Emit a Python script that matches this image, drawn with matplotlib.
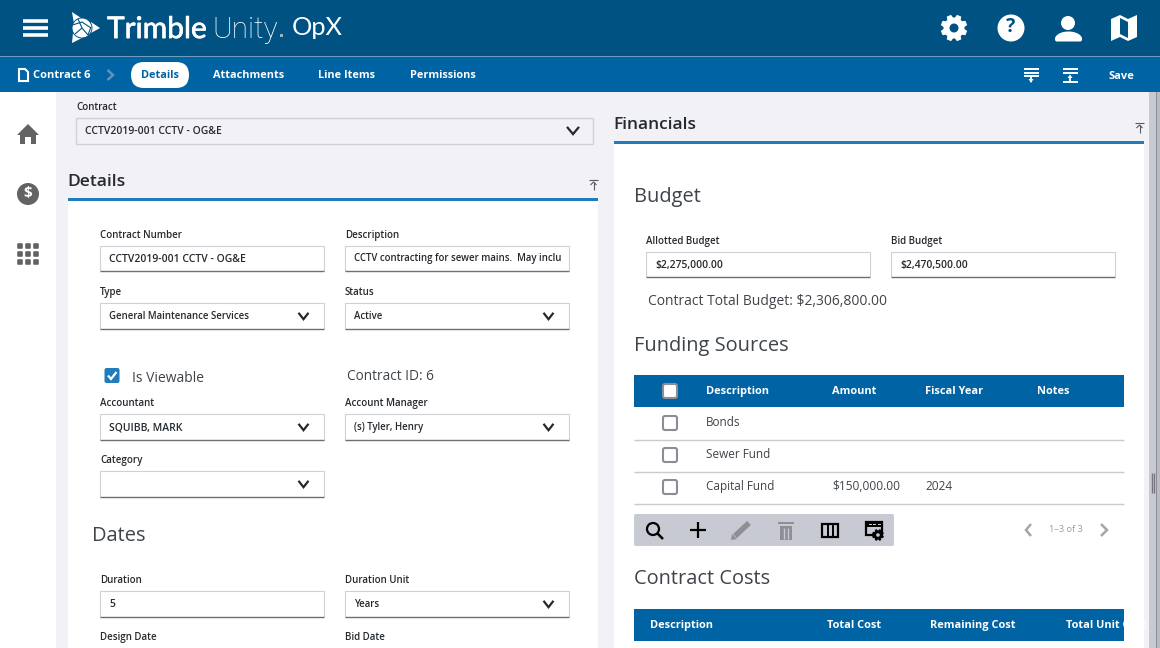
import numpy as np
import matplotlib
matplotlib.use("Agg")
import matplotlib.pyplot as plt
import matplotlib.patheffects as pe
from matplotlib.patches import Rectangle, FancyBboxPatch, Circle, Polygon

plt.rcParams['font.family'] = ['Open Sans', 'DejaVu Sans']

# --- Screen text ---
nav_tabs = ["Details", "Attachments", "Line Items", "Permissions"]
nav_x = [160, 249, 347, 443]

left_labels = ["Contract Number", "Description", "Type", "Status", "Accountant", "Account Manager",
               "Category", "Duration", "Duration Unit"]
left_values = ["CCTV2019-001 CCTV - OG&E", "CCTV contracting for sewer mains.  May inclu",
               "General Maintenance Services", "Active", "SQUIBB, MARK", "(s) Tyler, Henry",
               "", "5", "Years"]
left_is_select = [False, False, True, True, True, True, True, False, True]
left_col_x = [100, 345, 100, 345, 100, 345, 100, 100, 345]
left_top_y = [246, 246, 303, 303, 414, 414, 471, 591, 591]

funding_head = ["Description", "Amount", "Fiscal Year", "Notes"]
funding_head_x = [706, 832, 925, 1037]
funding_names = ["Bonds", "Sewer Fund", "Capital Fund"]
funding_amount = ["", "", "$150,000.00"]
funding_year = ["", "", "2024"]
funding_y = [422, 454, 486]

cost_head = ["Description", "Total Cost", "Remaining Cost", "Total Unit Cost"]
cost_head_x = [650, 827, 930, 1066]

# --- Colours ---
top_blue = "#005283"
nav_blue = "#0063a3"
page_bg = "#f1f1f6"
line_blue = "#217cbb"
ink = "#252a2e"
soft_ink = "#3f444b"
border = "#d0d0d7"
under = "#6e6e76"
tool_bg = "#c8cad3"
icon_gray = "#636366"

fig = plt.figure(figsize=(11.6, 6.48), dpi=100)
ax = fig.add_axes([0, 0, 1, 1])
ax.set_xlim(0, 1160)
ax.set_ylim(648, 0)
ax.axis("off")


def rect(x, y, w, h, color, z=1):
    ax.add_patch(Rectangle((x, y), w, h, facecolor=color, edgecolor="none", zorder=z))


def rounded(x, y, w, h, r, fc, ec="none", lw=0, z=2):
    ax.add_patch(FancyBboxPatch((x + r, y + r), w - 2*r, h - 2*r, boxstyle=f"round,pad={r}",
                                facecolor=fc, edgecolor=ec, linewidth=lw, zorder=z))


def txt(x, y, s, size=9, color=ink, weight="normal", ha="left", family=None, z=5):
    # y is the middle of the text line, so mixed strings share a baseline
    kw = {"family": family} if family else {}
    return ax.text(x, y + size/0.72*0.36, s, fontsize=size, color=color, fontweight=weight, ha=ha,
                   va="baseline", zorder=z, **kw)


def line(xs, ys, color="black", lw=1.0, z=4, cap="butt"):
    ax.plot(xs, ys, color=color, linewidth=lw, zorder=z, solid_capstyle=cap,
            solid_joinstyle="miter")


def chevron(cx, cy, w=5.0, h=3.2, color="#26282a", lw=1.6):
    line([cx - w, cx, cx + w], [cy - h, cy + h, cy - h], color, lw, z=6)


def value_size(value):
    # capitals and figures run wider in the original font
    return 7.5 if value.upper() == value else 6.95


def field(x, y, w, h, value="", select=False, fill="white", bottom=under):
    rect(x, y, w, h, fill, 2)
    line([x, x, x + w, x + w], [y + h, y, y, y + h], border, 0.8)
    line([x, x + w], [y + h, y + h], bottom, 1.0)
    if value:
        txt(x + 9, y + h/2 - 0.5, value, value_size(value), ink, "semibold")
    if select:
        chevron(x + w - 20.5, y + h/2)


def checkbox(cx, cy, fill="white", ec="#8c8d96"):
    rounded(cx - 7, cy - 7, 14, 14, 2, fill, ec, 1.5, z=4)


def gear(cx, cy, r_out, r_in, r_hole, color, hole):
    ang = np.linspace(0, 2*np.pi, 8, endpoint=False) + np.pi/8
    pts = []
    for a in ang:
        for d, rr in [(-0.30, r_in), (-0.17, r_out), (0.17, r_out), (0.30, r_in)]:
            pts.append((cx + rr*np.cos(a + d), cy + rr*np.sin(a + d)))
    ax.add_patch(Polygon(pts, closed=True, facecolor=color, edgecolor="none", zorder=5))
    ax.add_patch(Circle((cx, cy), r_hole, facecolor=hole, edgecolor="none", zorder=6))


# --- Backgrounds ---
rect(0, 0, 1160, 56, top_blue)
rect(0, 56, 1160, 1, "#6e9dbd")
rect(0, 57, 1160, 35, nav_blue)
rect(0, 92, 56, 556, "white")
rect(56, 92, 1093, 556, page_bg)
rect(1149, 92, 7, 556, tool_bg)
rect(1156, 92, 1, 556, "#8c8d96")
rect(1157, 92, 3, 556, "#bcbcc0")

# grip on the splitter
line([1151.5, 1151.5], [473, 493], "#75767f", 1.0)
line([1153.7, 1153.7], [473, 493], "#75767f", 1.0)

# --- Top bar ---
for y in [21, 28, 35]:
    line([23, 48], [y, y], "white", 2.6)

# logo mark
ax.add_patch(Polygon([(72, 12), (84, 20), (74, 24)], closed=True, facecolor="white", zorder=5))
ax.add_patch(Polygon([(91, 22), (100, 28), (91, 33)], closed=True, facecolor="white", zorder=5))
ax.add_patch(Polygon([(72, 43), (73, 33), (84, 37)], closed=True, facecolor="white", zorder=5))
ax.add_patch(Circle((82, 28), 10, facecolor="white", edgecolor=top_blue, linewidth=0.7, zorder=6))
line([72.5, 82, 91], [25, 22, 28], top_blue, 0.8, z=7)
line([78, 82, 75], [19, 28, 34], top_blue, 0.8, z=7)
line([82, 88, 91], [28, 35, 27], top_blue, 0.8, z=7)

t = txt(107, 27.3, "Trimble", 21.5, "white", "normal", family="Lato")
t.set_path_effects([pe.withStroke(linewidth=0.5, foreground="white")])
txt(212.5, 27.3, "Unity", 21.3, "white", "light", family="Roboto")
rect(280, 34, 3, 3, "#8fb4cc", 5)
txt(292, 25.9, "OpX", 18.3, "white", "normal", family="Lato")

# gear, help, user, map
gear(954, 28, 13.5, 10.5, 4.5, "white", top_blue)
ax.add_patch(Circle((1011, 28), 13.5, facecolor="white", edgecolor="none", zorder=5))
txt(1011, 24.5, "?", 14, top_blue, "bold", ha="center", z=6)
ax.add_patch(Circle((1068, 23), 7, facecolor="white", edgecolor="none", zorder=5))
a = np.linspace(np.pi, 2*np.pi, 30)
ax.add_patch(Polygon(np.column_stack([1068.5 + 13.5*np.cos(a), 39 + 7.5*np.sin(a)]), closed=True,
                     facecolor="white", edgecolor="none", zorder=5))
rounded(1055, 37, 27, 4.5, 2, "white", z=5)
ax.add_patch(Polygon([(1111, 19), (1120, 15), (1128, 19), (1137, 15), (1137, 37), (1128, 41), (1120, 37),
                      (1111, 41)], closed=True, facecolor="white", edgecolor="none", zorder=5))
ax.add_patch(Polygon([(1120, 18), (1128, 22), (1128, 38), (1120, 34)], closed=True, facecolor=top_blue,
                     edgecolor="none", zorder=6))

# --- Nav bar ---
ax.add_patch(Polygon([(19, 69), (25, 69), (28, 72), (28, 81), (19, 81)], closed=True, facecolor="none",
                     edgecolor="white", linewidth=1.5, zorder=5))
txt(33, 74, "Contract 6", 8.0, "white", "bold")
line([107.5, 113, 107.5], [70, 75, 80], "#5f93bd", 1.8)
rounded(131, 62, 58, 26, 13, "white", z=3)
for name, x in zip(nav_tabs, nav_x):
    txt(x, 74, name, 7.8, nav_blue if name == "Details" else "white", "bold", ha="center")

# collapse / expand icons
for x, down in [(1031, True), (1070, False)]:
    if down:
        for y in [69, 72.5, 76]:
            line([x - 7.5, x + 7.5], [y, y], "white", 1.4)
        line([x, x], [76, 82], "white", 1.3)
        ax.add_patch(Polygon([(x - 2.5, 79), (x + 2.5, 79), (x, 83)], closed=True, facecolor="white", zorder=5))
    else:
        for y in [69, 72.5, 82]:
            line([x - 7.5, x + 7.5], [y, y], "white", 1.4)
        line([x, x], [76, 82], "white", 1.3)
        ax.add_patch(Polygon([(x - 2.5, 78), (x + 2.5, 78), (x, 74.5)], closed=True, facecolor="white", zorder=5))
txt(1121, 75, "Save", 8.0, "white", "bold", ha="center")

# --- Side bar ---
ax.add_patch(Polygon([(28, 124), (39, 135), (36, 135), (36, 144), (31, 144), (31, 137), (25, 137),
                      (25, 144), (20, 144), (20, 135), (17, 135)], closed=True, facecolor=icon_gray,
                     edgecolor="none", zorder=5))
ax.add_patch(Circle((28, 194), 11, facecolor=icon_gray, edgecolor="none", zorder=5))
txt(28, 192, "$", 11, "white", "bold", ha="center", z=6)
for cx in [20, 28, 36]:
    for cy in [246, 254, 262]:
        rounded(cx - 2.8, cy - 2.8, 5.6, 5.6, 1, icon_gray, z=5)

# --- Contract selector ---
txt(76, 106.5, "Contract", 7.0, ink, "semibold")
rounded(76.5, 118.5, 517, 26, 1, page_bg, border, 1.0)
txt(85, 130, "CCTV2019-001 CCTV - OG&E", 7.5, ink, "semibold")
chevron(573, 130.5, 6, 3.6)

# --- Details panel ---
txt(67.5, 180, "Details", 12.6, ink, "semibold")
rect(68, 198, 530, 2.5, line_blue, 3)
rect(68, 200, 530, 448, "white", 2)
line([589, 598], [180, 180], "#555a60", 0.8)
line([593.5, 593.5], [182, 190], "#555a60", 0.8)
line([590.5, 593.5, 596.5], [185, 182, 185], "#555a60", 0.8)

for label, value, sel, x, y in zip(left_labels, left_values, left_is_select, left_col_x, left_top_y):
    txt(x, y - 11.5, label, 7.0, ink, "semibold")
    field(x, y, 224, 26 if y != 246 else 25, value, sel)

rounded(104.5, 368, 15, 15, 2, line_blue, z=4)
line([108, 111, 116.5], [375.5, 379, 372], "white", 1.6, z=6)
txt(132, 377, "Is Viewable", 10, soft_ink)
txt(347, 375.5, "Contract ID: 6", 9.8, soft_ink)
txt(92, 533.5, "Dates", 14.4, soft_ink)
txt(100, 636.5, "Design Date", 7.0, ink, "semibold")
txt(345, 636.5, "Bid Date", 7.0, ink, "semibold")

# --- Financials panel ---
txt(613.5, 123, "Financials", 12.5, ink, "semibold")
rect(614, 141, 530, 2.5, line_blue, 3)
rect(614, 143, 530, 505, "white", 2)
line([1135, 1144], [123, 123], "#555a60", 0.8)
line([1139.5, 1139.5], [125, 133], "#555a60", 0.8)
line([1136.5, 1139.5, 1142.5], [128, 125, 128], "#555a60", 0.8)

txt(634, 194.5, "Budget", 14.4, soft_ink)
txt(646, 240.5, "Allotted Budget", 7.0, ink, "semibold")
txt(891, 240.5, "Bid Budget", 7.0, ink, "semibold")
field(646, 252, 224, 25, "$2,275,000.00")
field(891, 252, 224, 25, "$2,470,500.00")
txt(648, 300, "Contract Total Budget: $2,306,800.00", 10, soft_ink)
txt(634, 343.5, "Funding Sources", 14.4, soft_ink)

# funding table
rect(634, 375, 490, 32, nav_blue, 3)
checkbox(670, 391, "white", "#8c8d96")
for name, x in zip(funding_head, funding_head_x):
    txt(x, 390, name, 7.95, "white", "bold")
for name, amount, year, y in zip(funding_names, funding_amount, funding_year, funding_y):
    checkbox(670, y + 1)
    txt(706, y, name, 8.5, soft_ink)
    txt(832, y, amount, 8.6, soft_ink)
    txt(925, y, year, 8.6, soft_ink)
    line([634, 1124], [y + 17.5, y + 17.5], "#c9c9ce", 1.0)

# table toolbar
rounded(634, 514, 260, 32, 2, tool_bg, z=3)
ax.add_patch(Circle((653, 529), 6, facecolor="none", edgecolor="black", linewidth=1.6, zorder=5))
line([657.5, 663], [533.5, 539], "black", 1.8)
line([690, 706], [530, 530], "black", 1.6)
line([698, 698], [522, 538], "black", 1.6)
line([735, 749], [536, 523], "#8e8e94", 4)
ax.add_patch(Polygon([(731, 540), (732, 534), (737, 539)], closed=True, facecolor="#8e8e94", zorder=5))
rect(780, 526, 12, 14, "#8e8e94", 5)
rect(778, 522, 16, 2, "#8e8e94", 5)
line([784, 784], [528, 539], tool_bg, 1.0, z=6)
line([788, 788], [528, 539], tool_bg, 1.0, z=6)
ax.add_patch(Rectangle((822, 524), 16, 13, facecolor="none", edgecolor="black", linewidth=1.6, zorder=5))
line([827.5, 827.5], [524, 537], "black", 1.4)
line([832.5, 832.5], [524, 537], "black", 1.4)
ax.add_patch(Rectangle((866, 522), 16, 13, facecolor="none", edgecolor="black", linewidth=1.6, zorder=5))
rect(866, 522, 16, 5, "black", 5)
for x in [868.5, 873, 877.5]:
    rect(x, 523.5, 3, 1.5, tool_bg, 6)
gear(878, 535, 6, 4.6, 1.8, "black", tool_bg)

line([1031, 1026, 1031], [524, 530, 536], "#a4a6ac", 1.8)
txt(1066, 528.5, "1–3 of 3", 6.6, "#9a9ca3", ha="center")
line([1101, 1107, 1101], [524, 530, 536], "#a4a6ac", 1.8)

txt(634, 577, "Contract Costs", 14.4, soft_ink)
head_box = Rectangle((634, 609), 490, 32, transform=ax.transData)
rect(634, 609, 490, 32, nav_blue, 3)
for name, x in zip(cost_head, cost_head_x):
    t = txt(x, 624, name, 7.95, "white", "bold")
    t.set_clip_path(head_box)

fig.savefig("out.png", dpi=100, facecolor="white")
